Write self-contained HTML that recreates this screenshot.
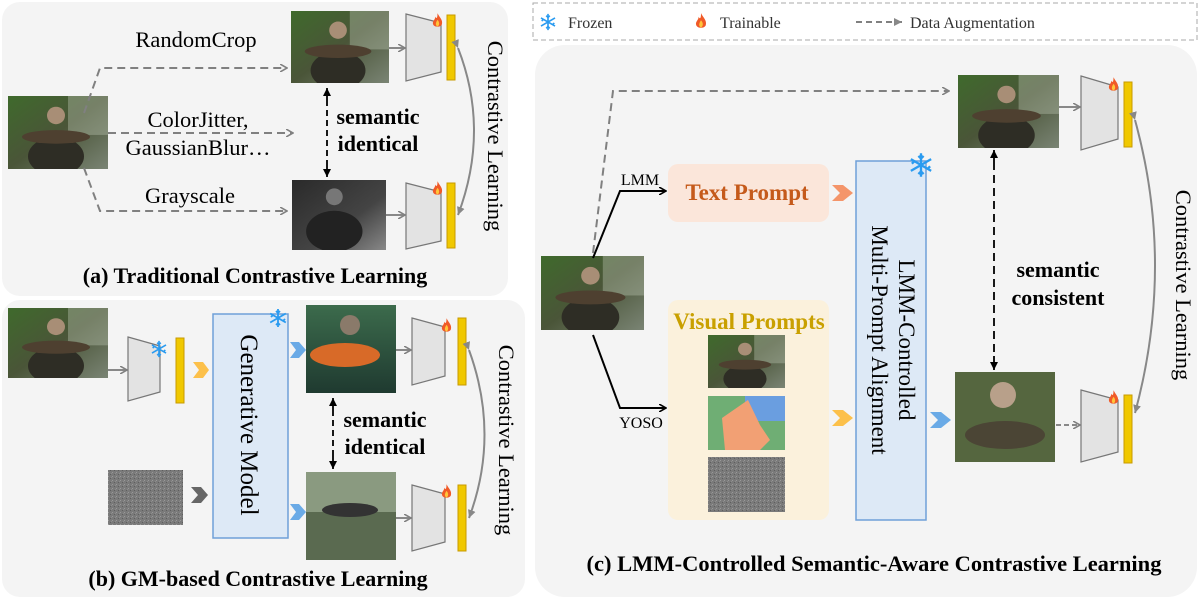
<!DOCTYPE html>
<html><head><meta charset="utf-8"><style>
html,body{margin:0;padding:0;background:#fff;}
svg{display:block;font-family:"Liberation Serif",serif;}
</style></head><body>
<svg width="1200" height="599" viewBox="0 0 1200 599" xmlns="http://www.w3.org/2000/svg">
<defs>
<linearGradient id="pg" x1="0" y1="0" x2="1" y2="1"><stop offset="0" stop-color="#3f6a2c"/><stop offset="0.5" stop-color="#4a5538"/><stop offset="1" stop-color="#7a8474"/></linearGradient>
<linearGradient id="gg" x1="0" y1="0" x2="1" y2="1"><stop offset="0" stop-color="#2a2a2a"/><stop offset="0.6" stop-color="#444"/><stop offset="1" stop-color="#888"/></linearGradient>
<linearGradient id="fg" x1="0" y1="0" x2="0" y2="1"><stop offset="0" stop-color="#3c6b4c"/><stop offset="1" stop-color="#1f3a30"/></linearGradient>
<symbol id="photo" viewBox="0 0 100 75" preserveAspectRatio="none">
<rect width="100" height="75" fill="url(#pg)"/><rect x="60" y="0" width="40" height="40" fill="#b8c4b0" opacity="0.4"/>
<ellipse cx="48" cy="62" rx="28" ry="20" fill="#2e2d25"/><circle cx="48" cy="20" r="9" fill="#a88e76"/>
<ellipse cx="48" cy="42" rx="34" ry="7" fill="#4e4030"/></symbol>
<symbol id="gphoto" viewBox="0 0 100 75" preserveAspectRatio="none">
<rect width="100" height="75" fill="url(#gg)"/><ellipse cx="45" cy="55" rx="30" ry="22" fill="#222"/><circle cx="45" cy="18" r="9" fill="#777"/></symbol>
<pattern id="noise" width="4" height="4" patternUnits="userSpaceOnUse"><rect width="4" height="4" fill="#7a7a7a"/><rect width="1" height="1" fill="#999"/><rect x="2" y="2" width="1" height="1" fill="#5e5e5e"/><rect x="3" y="1" width="1" height="1" fill="#8c8c8c"/></pattern>
<marker id="ag" markerWidth="8" markerHeight="8" refX="6" refY="4" orient="auto" markerUnits="userSpaceOnUse"><path d="M0,0 L7,4 L0,8" fill="none" stroke="#808080" stroke-width="1.6"/></marker>
<marker id="ak" markerWidth="8" markerHeight="8" refX="6" refY="4" orient="auto" markerUnits="userSpaceOnUse"><path d="M0,0 L7,4 L0,8" fill="none" stroke="#000" stroke-width="1.6"/></marker>
<marker id="akf" markerWidth="10" markerHeight="10" refX="8" refY="5" orient="auto" markerUnits="userSpaceOnUse"><path d="M0,1 L8,5 L0,9 Z" fill="#000"/></marker>
<marker id="agf" markerWidth="10" markerHeight="10" refX="8" refY="5" orient="auto" markerUnits="userSpaceOnUse"><path d="M0,1 L8,5 L0,9 Z" fill="#888"/></marker>
<symbol id="fire" viewBox="0 0 10 14"><path d="M5,0 C7,4 10,6 9,10 C8,13 2,13 1,10 C0,7 3,6 3,3 C4,5 5,5 5,0Z" fill="#f05a28"/><path d="M5,6 C7,8 7,11 5,12 C3,11 3,9 5,6Z" fill="#ffc53a"/></symbol>
<symbol id="snow" viewBox="-10 -10 20 20"><g stroke="#2a9bf0" stroke-width="1.8" fill="none"><path d="M0,-9V9M-7.8,-4.5L7.8,4.5M-7.8,4.5L7.8,-4.5"/><path d="M-2,-7L0,-5L2,-7M-2,7L0,5L2,7M-7,-1L-5,-3M7,1L5,3"/></g></symbol>
</defs>

<rect x="2" y="2" width="506" height="294" rx="18" fill="#f4f4f4"/>
<rect x="2" y="300" width="523" height="297" rx="18" fill="#f4f4f4"/>
<rect x="535" y="45" width="662" height="552" rx="30" fill="#f4f4f4"/>
<rect x="533" y="3" width="664" height="37" fill="none" stroke="#aaa" stroke-dasharray="5,3"/>

<use href="#snow" x="539" y="13" width="18" height="18"/>
<text x="568" y="28" font-size="16" fill="#333">Frozen</text>
<use href="#fire" x="695" y="13" width="12" height="17"/>
<text x="720" y="28" font-size="16" fill="#333">Trainable</text>
<line x1="856" y1="22" x2="902" y2="22" stroke="#808080" stroke-width="2" stroke-dasharray="6,4" marker-end="url(#agf)"/>
<text x="910" y="28" font-size="16" fill="#333">Data Augmentation</text>

<!-- (a) -->
<use href="#photo" x="8" y="96" width="100" height="73"/>
<use href="#photo" x="291" y="11" width="98" height="72"/>
<use href="#gphoto" x="292" y="180" width="94" height="70"/>
<g stroke="#808080" stroke-width="2" fill="none" stroke-dasharray="8,5">
<path d="M84,113 L100,68 L286,68" marker-end="url(#ag)"/>
<path d="M108,133 L292,133" marker-end="url(#ag)"/>
<path d="M84,168 L100,211 L286,211" marker-end="url(#ag)"/>
</g>
<text x="196" y="47" font-size="22.5" text-anchor="middle">RandomCrop</text>
<text x="198" y="127" font-size="22.5" text-anchor="middle">ColorJitter,</text>
<text x="198" y="155" font-size="22.5" text-anchor="middle">GaussianBlur…</text>
<text x="190" y="203" font-size="22.5" text-anchor="middle">Grayscale</text>
<line x1="327" y1="100" x2="327" y2="164" stroke="#000" stroke-width="1.8" stroke-dasharray="6,4"/>
<path d="M327,100 L327,88" stroke="#000" stroke-width="1.8" marker-end="url(#akf)"/>
<path d="M327,164 L327,177" stroke="#000" stroke-width="1.8" marker-end="url(#akf)"/>
<text x="378" y="124" font-size="22" font-weight="bold" text-anchor="middle">semantic</text>
<text x="378" y="151" font-size="22" font-weight="bold" text-anchor="middle">identical</text>
<g stroke="#888" stroke-width="2"><line x1="389" y1="48" x2="404" y2="48" marker-end="url(#ag)"/><line x1="386" y1="215" x2="404" y2="215" marker-end="url(#ag)"/></g>
<path d="M406,14 L441,23 L441,72 L406,81Z" fill="#e3e3e3" stroke="#777" stroke-width="1.2"/>
<path d="M406,183 L441,192 L441,241 L406,249Z" fill="#e3e3e3" stroke="#777" stroke-width="1.2"/>
<use href="#fire" x="432" y="13" width="11" height="16"/>
<use href="#fire" x="432" y="181" width="11" height="16"/>
<rect x="447" y="15" width="8" height="65" fill="#f0c800" stroke="#c89a00"/>
<rect x="447" y="183" width="8" height="65" fill="#f0c800" stroke="#c89a00"/>
<path d="M458,48 Q490,130 458,215" fill="none" stroke="#888" stroke-width="2" marker-start="url(#agf)" marker-end="url(#agf)"/>
<text transform="translate(488,136) rotate(90)" font-size="22.5" text-anchor="middle">Contrastive Learning</text>
<text x="255" y="283" font-size="22" font-weight="bold" text-anchor="middle">(a) Traditional Contrastive Learning</text>

<!-- (b) -->
<use href="#photo" x="8" y="308" width="100" height="70"/>
<line x1="108" y1="370" x2="126" y2="370" stroke="#888" stroke-width="2" marker-end="url(#ag)"/>
<path d="M128,337 L160,346 L160,392 L128,401Z" fill="#e3e3e3" stroke="#777" stroke-width="1.2"/>
<use href="#snow" x="150" y="340" width="18" height="18"/>
<rect x="176" y="338" width="8" height="65" fill="#f0c800" stroke="#c89a00"/>
<path d="M193,362 L203,362 L209,370 L203,378 L193,378 L199,370Z" fill="#fcc04a"/>
<rect x="108" y="470" width="75" height="55" fill="url(#noise)"/>
<path d="M191,487 L201,487 L208,495 L201,503 L191,503 L198,495Z" fill="#666"/>
<rect x="213" y="314" width="75" height="224" fill="#dde9f6" stroke="#6fa0d8" stroke-width="1.5"/>
<use href="#snow" x="268" y="308" width="20" height="20"/>
<text transform="translate(241,425) rotate(90)" font-size="25" text-anchor="middle">Generative Model</text>
<path d="M290,342 L299,342 L306,350 L299,358 L290,358 L296,350Z" fill="#6aaae6"/>
<path d="M290,504 L299,504 L306,512 L299,520 L290,520 L296,512Z" fill="#6aaae6"/>
<rect x="306" y="305" width="90" height="88" fill="url(#fg)"/>
<ellipse cx="345" cy="355" rx="35" ry="12" fill="#d86a28"/><circle cx="350" cy="325" r="10" fill="#8a7a6a"/>
<rect x="306" y="472" width="90" height="88" fill="#5a6a50"/><rect x="306" y="472" width="90" height="40" fill="#8a9a80"/>
<ellipse cx="350" cy="510" rx="28" ry="7" fill="#333"/>
<g stroke="#888" stroke-width="2"><line x1="396" y1="350" x2="410" y2="350" marker-end="url(#ag)"/><line x1="396" y1="518" x2="410" y2="518" marker-end="url(#ag)"/></g>
<path d="M412,318 L445,327 L445,376 L412,385Z" fill="#e3e3e3" stroke="#777" stroke-width="1.2"/>
<path d="M412,485 L445,494 L445,542 L412,551Z" fill="#e3e3e3" stroke="#777" stroke-width="1.2"/>
<use href="#fire" x="441" y="318" width="11" height="16"/>
<use href="#fire" x="441" y="484" width="11" height="16"/>
<rect x="458" y="318" width="8" height="67" fill="#f0c800" stroke="#c89a00"/>
<rect x="458" y="485" width="8" height="66" fill="#f0c800" stroke="#c89a00"/>
<path d="M469,350 Q500,435 469,518" fill="none" stroke="#888" stroke-width="2" marker-start="url(#agf)" marker-end="url(#agf)"/>
<text transform="translate(499,440) rotate(90)" font-size="22.5" text-anchor="middle">Contrastive Learning</text>
<line x1="333" y1="410" x2="333" y2="456" stroke="#000" stroke-width="1.8" stroke-dasharray="6,4"/>
<path d="M333,410 L333,398" stroke="#000" stroke-width="1.8" marker-end="url(#akf)"/>
<path d="M333,456 L333,469" stroke="#000" stroke-width="1.8" marker-end="url(#akf)"/>
<text x="385" y="427" font-size="22" font-weight="bold" text-anchor="middle">semantic</text>
<text x="385" y="454" font-size="22" font-weight="bold" text-anchor="middle">identical</text>
<text x="258" y="586" font-size="22" font-weight="bold" text-anchor="middle">(b) GM-based Contrastive Learning</text>

<!-- (c) -->
<use href="#photo" x="541" y="256" width="103" height="74"/>
<path d="M593,253 L613,91 L948,91" fill="none" stroke="#808080" stroke-width="2" stroke-dasharray="8,5" marker-end="url(#ag)"/>
<path d="M593,258 L620,191 L665,191" fill="none" stroke="#000" stroke-width="2" marker-end="url(#ak)"/>
<path d="M593,335 L620,408 L665,408" fill="none" stroke="#000" stroke-width="2" marker-end="url(#ak)"/>
<text x="640" y="185" font-size="16" text-anchor="middle">LMM</text>
<text x="641" y="428" font-size="16" text-anchor="middle">YOSO</text>
<rect x="668" y="164" width="161" height="58" rx="10" fill="#fbe6da"/>
<text x="747" y="200" font-size="23" font-weight="bold" fill="#c55a1b" text-anchor="middle">Text Prompt</text>
<rect x="668" y="300" width="161" height="220" rx="10" fill="#fbf1dc"/>
<text x="749" y="329" font-size="23" font-weight="bold" fill="#c9a000" text-anchor="middle">Visual Prompts</text>
<use href="#photo" x="708" y="335" width="77" height="53"/>
<rect x="708" y="396" width="77" height="54" fill="#6fae74"/><rect x="745" y="396" width="40" height="25" fill="#6a9ee0"/>
<path d="M722,418 L748,400 L760,425 L770,440 L760,450 L725,450 Z" fill="#f2a074"/>
<rect x="708" y="457" width="77" height="55" fill="url(#noise)"/>
<path d="M832,185 L843,185 L853,193 L843,201 L832,201 L840,193Z" fill="#f4956a"/>
<path d="M832,410 L843,410 L853,418 L843,426 L832,426 L840,418Z" fill="#fcc04a"/>
<rect x="856" y="161" width="70" height="359" fill="#dde9f6" stroke="#6fa0d8" stroke-width="1.5"/>
<use href="#snow" x="908" y="152" width="26" height="26"/>
<text transform="translate(899,340) rotate(90)" font-size="23" text-anchor="middle">LMM-Controlled</text>
<text transform="translate(872,340) rotate(90)" font-size="23" text-anchor="middle">Multi-Prompt Alignment</text>
<path d="M930,412 L941,412 L951,420 L941,428 L930,428 L938,420Z" fill="#6aaae6"/>
<use href="#photo" x="958" y="75" width="101" height="73"/>
<rect x="955" y="372" width="100" height="90" fill="#55663f"/><circle cx="1003" cy="395" r="13" fill="#b8a08a"/>
<ellipse cx="1005" cy="435" rx="40" ry="14" fill="#4b4535"/>
<line x1="1059" y1="107" x2="1079" y2="107" stroke="#888" stroke-width="2" marker-end="url(#ag)"/>
<line x1="1056" y1="425" x2="1079" y2="425" stroke="#888" stroke-width="2" stroke-dasharray="5,3" marker-end="url(#ag)"/>
<path d="M1081,76 L1118,87 L1118,139 L1081,150Z" fill="#e3e3e3" stroke="#777" stroke-width="1.2"/>
<path d="M1081,390 L1118,400 L1118,452 L1081,462Z" fill="#e3e3e3" stroke="#777" stroke-width="1.2"/>
<use href="#fire" x="1108" y="77" width="11" height="16"/>
<use href="#fire" x="1108" y="390" width="11" height="16"/>
<rect x="1124" y="82" width="8" height="65" fill="#f0c800" stroke="#c89a00"/>
<rect x="1124" y="395" width="8" height="68" fill="#f0c800" stroke="#c89a00"/>
<path d="M1135,120 Q1175,265 1135,413" fill="none" stroke="#888" stroke-width="2" marker-start="url(#agf)" marker-end="url(#agf)"/>
<text transform="translate(1176,285) rotate(90)" font-size="22.5" text-anchor="middle">Contrastive Learning</text>
<line x1="994" y1="162" x2="994" y2="356" stroke="#000" stroke-width="1.8" stroke-dasharray="8,5"/>
<path d="M994,162 L994,150" stroke="#000" stroke-width="1.8" marker-end="url(#akf)"/>
<path d="M994,356 L994,370" stroke="#000" stroke-width="1.8" marker-end="url(#akf)"/>
<text x="1058" y="277" font-size="22" font-weight="bold" text-anchor="middle">semantic</text>
<text x="1058" y="305" font-size="22" font-weight="bold" text-anchor="middle">consistent</text>
<text x="874" y="571" font-size="22.5" font-weight="bold" text-anchor="middle">(c) LMM-Controlled Semantic-Aware Contrastive Learning</text>
</svg>
</body></html>
